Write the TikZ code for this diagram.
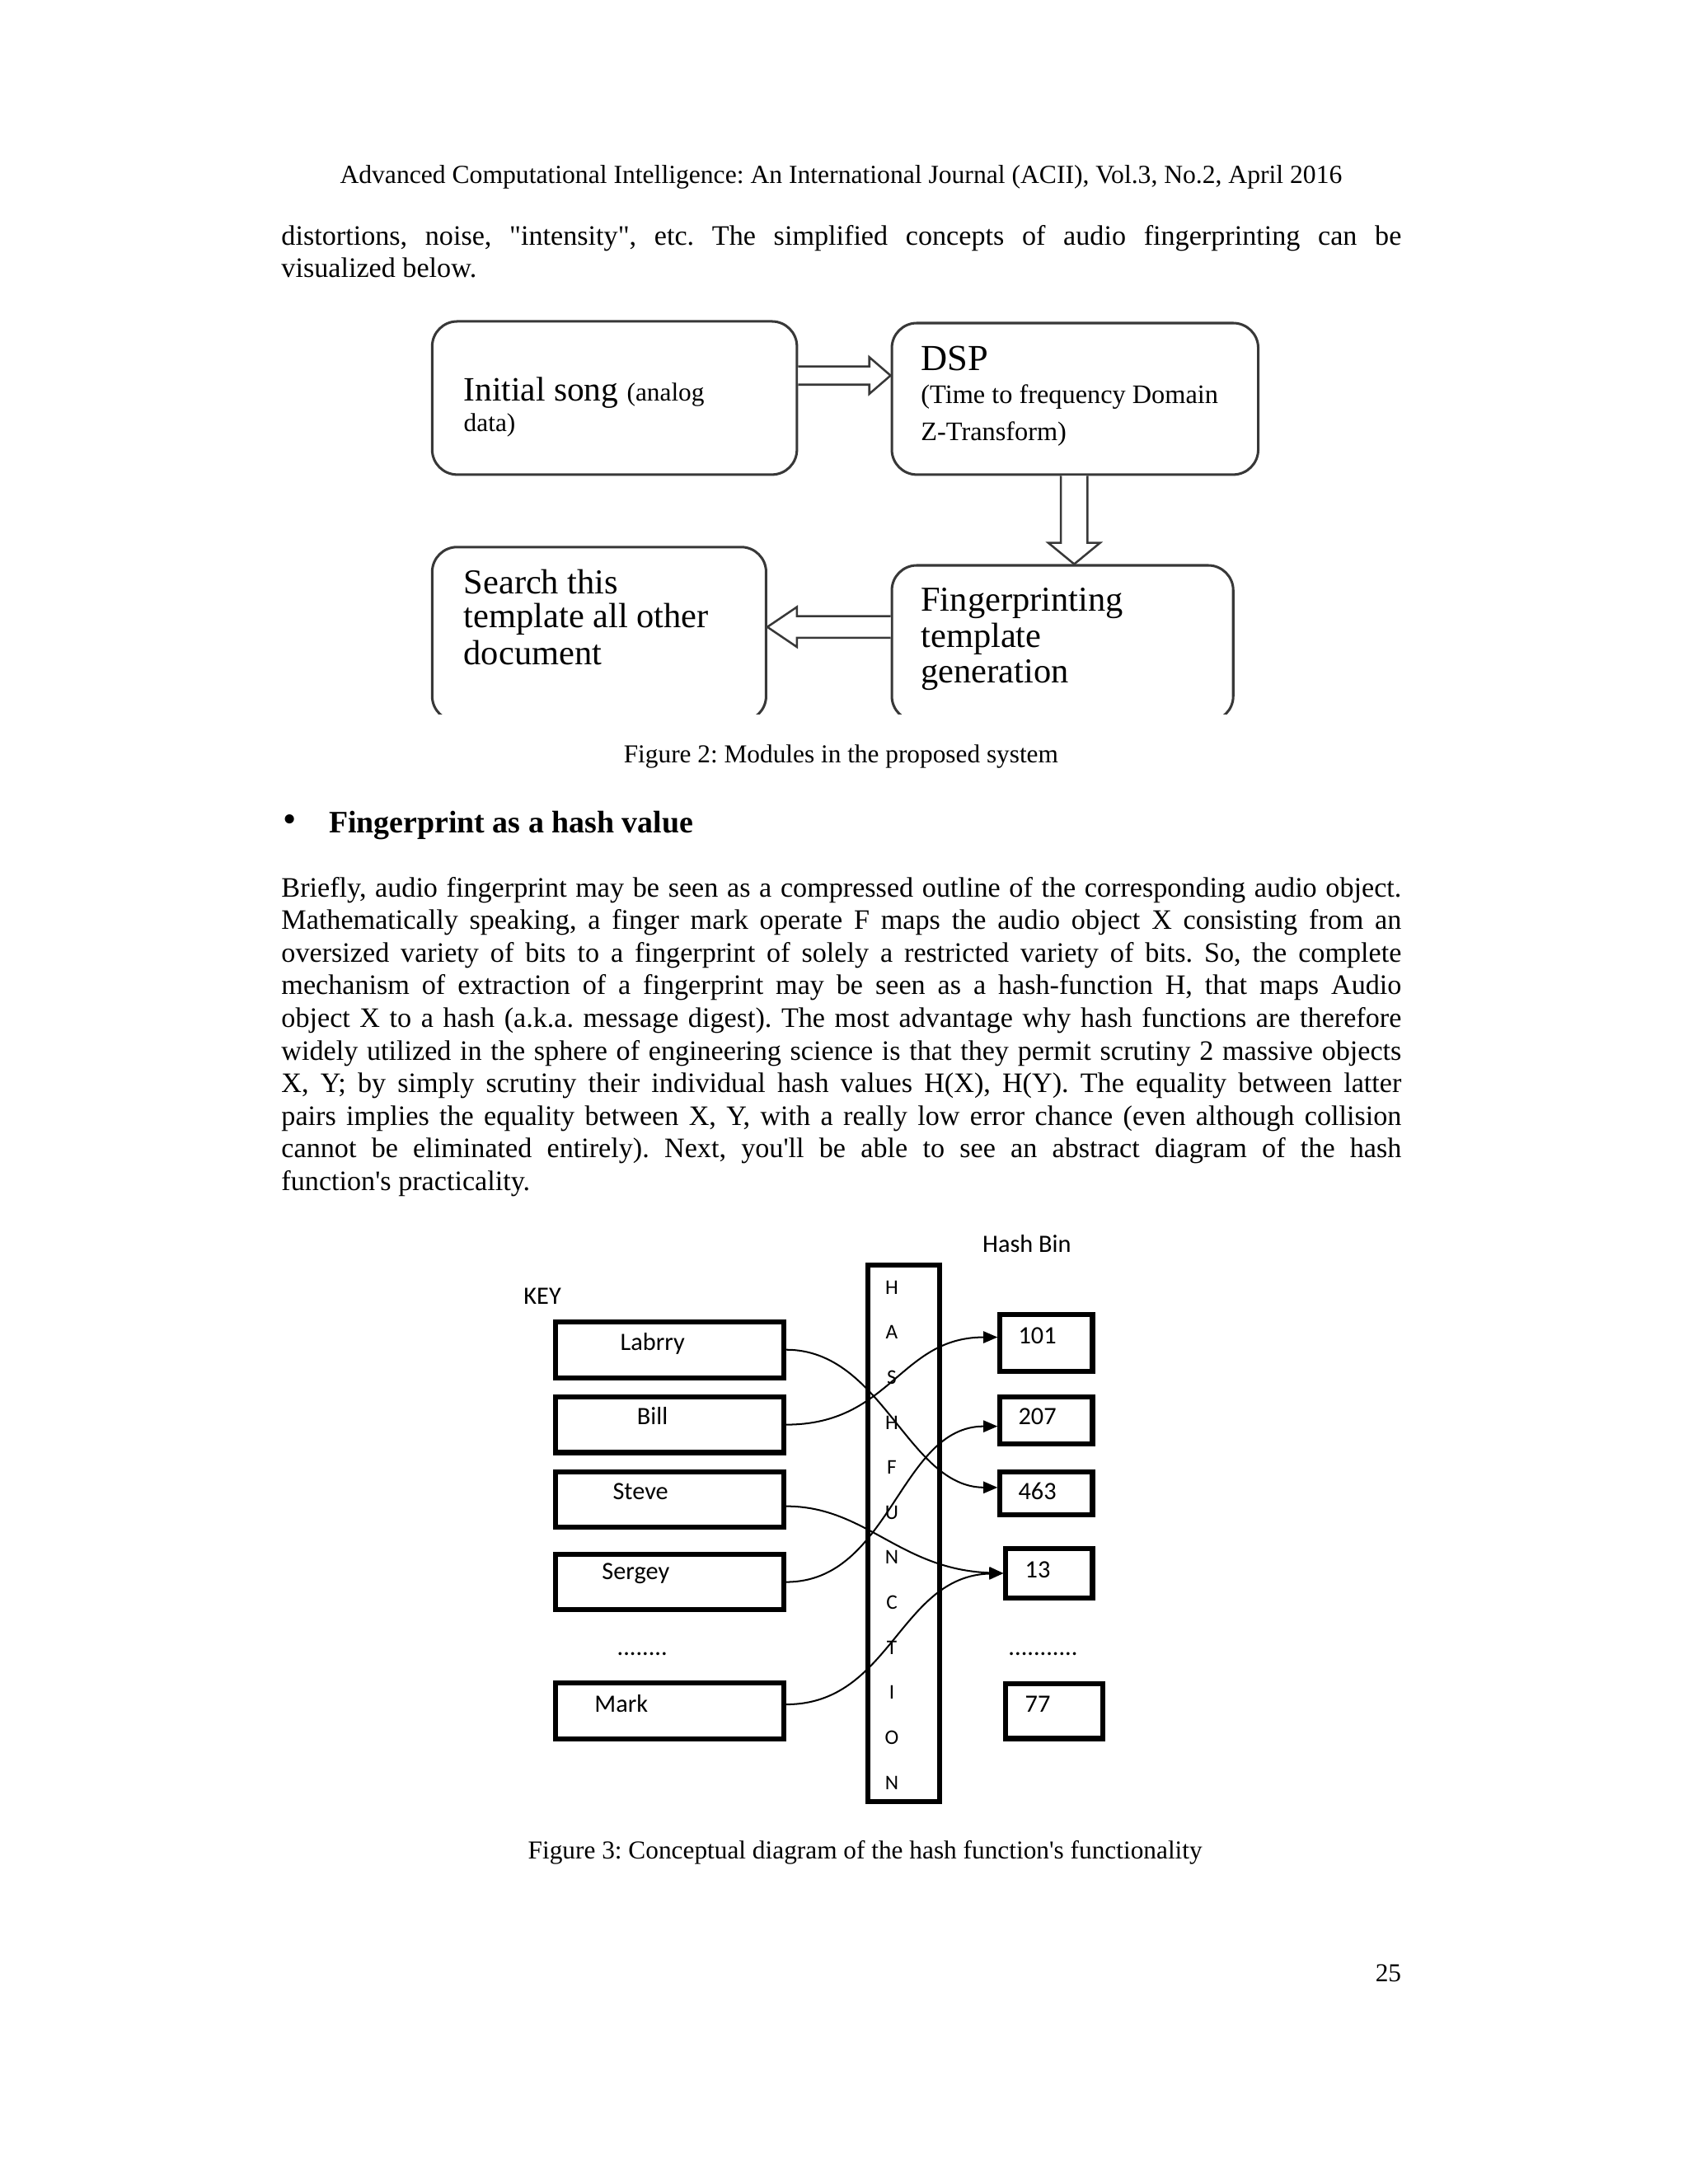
\documentclass[tikz,border=0pt]{standalone}
\usepackage{fontspec}
\setmainfont{Liberation Serif}[Ligatures=TeXOff]
\newfontfamily\calib{Carlito}
\usetikzlibrary{arrows.meta}
\newcommand\jline[1]{\makebox[1345pt][s]{#1}}
\frenchspacing
\begin{document}
\begin{tikzpicture}[x=1pt,y=-1pt,
  txt/.style={anchor=base west,inner sep=0pt,outer sep=0pt},
  body/.style={txt,font=\fontsize{33.8}{39}\selectfont},
  cbody/.style={anchor=base,inner sep=0pt,font=\fontsize{31}{39}\selectfont},
  rbox/.style={draw=black!78,line width=3pt,rounded corners=30pt,inner sep=0pt},
  blk/.style={draw=black!78,line width=2.5pt,fill=white,line join=miter},
  ftwo/.style={txt,font=\fontsize{42}{44}\selectfont},
  fsmall/.style={txt,font=\fontsize{32}{36}\selectfont},
  kbox/.style={draw,line width=6pt,inner sep=0pt,minimum width=274pt,minimum height=67pt},
  bbox/.style={draw,line width=6pt,inner sep=0pt},
  fthree/.style={txt,font=\calib\fontsize{30}{36}\selectfont},
  hl/.style={anchor=center,inner sep=0pt,font=\calib\fontsize{25}{30}\selectfont},
  link/.style={line width=2pt,-{Triangle[length=17pt,width=14pt]}}
]
\fill[white] (0,0) rectangle (2027,2623);
\useasboundingbox (0,0) rectangle (2027,2623);

% header and top text
\node[cbody,font=\fontsize{31.3}{36}\selectfont] (hdr) at (1010,220) {Advanced Computational Intelligence: An International Journal (ACII), Vol.3, No.2, April 2016};
\node[body] (t1) at (338,294) {\jline{distortions, noise, "intensity", etc. The simplified concepts of audio fingerprinting can be}};
\node[body] (t2) at (338,333) {visualized below.};

% Figure 2
\node[rbox,minimum width=438pt,minimum height=184pt] (A) at (738,478) {};
\node[rbox,minimum width=440pt,minimum height=182pt] (B) at (1291,479) {};
\begin{scope}
\clip (0,0) rectangle (2027,858);
\node[rbox,minimum width=401pt,minimum height=209pt] (C) at (719.5,761.5) {};
\node[rbox,minimum width=410pt,minimum height=187pt] (D) at (1276,772.5) {};
\end{scope}

\node[txt,font=\fontsize{41}{44}\selectfont] (tA1) at (557,482) {Initial song {\fontsize{31}{36}\selectfont(analog}};
\node[txt,font=\fontsize{31}{36}\selectfont] (tA2) at (557,518) {data)};
\node[txt,font=\fontsize{44}{48}\selectfont] (tB1) at (1106,445) {DSP};
\node[fsmall] (tB2) at (1106,485) {(Time to frequency Domain};
\node[fsmall] (tB3) at (1106,529) {Z-Transform)};
\node[ftwo] (tC1) at (557,713) {Search this};
\node[ftwo] (tC2) at (557,754) {template all other};
\node[ftwo] (tC3) at (557,798) {document};
\node[ftwo] (tD1) at (1106,734) {Fingerprinting};
\node[ftwo] (tD2) at (1106,777) {template};
\node[ftwo] (tD3) at (1106,820) {generation};

\draw[blk] (A.east |- 0,440) -- (1044,440) -- (1044,429) -- (B.west |- 0,451) -- (1044,473) -- (1044,462) -- (A.east |- 0,462);
\draw[blk] (B.south -| 1274,0) -- (1274,652) -- (1259,652) -- (D.north -| 1290,0) -- (1321,652) -- (1306,652) -- (B.south -| 1306,0);
\draw[blk] (D.west |- 0,740) -- (957,740) -- (957,729) -- (C.east |- 0,753) -- (957,777) -- (957,766) -- (D.west |- 0,766);

\node[cbody] (cap2) at (1010,916) {Figure 2: Modules in the proposed system};

% heading
\node[anchor=center,inner sep=0pt,font=\fontsize{46}{48}\selectfont] (bul) at (348,989) {\textbullet};
\node[txt,font=\bfseries\fontsize{37.5}{40}\selectfont] (hd) at (395,1000) {Fingerprint as a hash value};

% paragraph
\node[body] (p1) at (338,1077) {\jline{Briefly, audio fingerprint may be seen as a compressed outline of the corresponding audio object.}};
\node[body] (p2) at (338,1116.2) {\jline{Mathematically speaking, a finger mark operate F maps the audio object X consisting from an}};
\node[body] (p3) at (338,1155.4) {\jline{oversized variety of bits to a fingerprint of solely a restricted variety of bits. So, the complete}};
\node[body] (p4) at (338,1194.6) {\jline{mechanism of extraction of a fingerprint may be seen as a hash-function H, that maps Audio}};
\node[body] (p5) at (338,1233.8) {\jline{object X to a hash (a.k.a. message digest). The most advantage why hash functions are therefore}};
\node[body] (p6) at (338,1273) {\jline{widely utilized in the sphere of engineering science is that they permit scrutiny 2 massive objects}};
\node[body] (p7) at (338,1312.2) {\jline{X, Y; by simply scrutiny their individual hash values H(X), H(Y). The equality between latter}};
\node[body] (p8) at (338,1351.4) {\jline{pairs implies the equality between X, Y, with a really low error chance (even although collision}};
\node[body] (p9) at (338,1390.6) {\jline{cannot be eliminated entirely). Next, you'll be able to see an abstract diagram of the hash}};
\node[body] (p10) at (338,1429.8) {function's practicality.};

% Figure 3
\node[fthree] (hb) at (1180,1504) {Hash Bin};
\node[fthree] (key) at (629,1566) {KEY};
\node[kbox] (kL) at (804,1621) {};
\node[kbox] (kB) at (804,1711) {};
\node[kbox] (kSt) at (804,1801) {};
\node[kbox] (kSg) at (804,1900) {};
\node[kbox] (kM) at (804,2055) {};
\node[fthree] (tkL) at (745,1622) {Labrry};
\node[fthree] (tkB) at (765,1711) {Bill};
\node[fthree] (tkSt) at (736,1801) {Steve};
\node[fthree] (tkSg) at (723,1897) {Sergey};
\node[fthree] (tkM) at (714,2056) {Mark};
\node[fthree] (dl) at (741,1988) {........};

\node[bbox,minimum width=86pt,minimum height=645pt] (hf) at (1085,1841.5) {};
\foreach \c [count=\i from 0] in {H,A,S,H,F,U,N,C,T,I,O,N}
  \node[hl] (h\i) at (1071,{1546+54.1*\i}) {\c};

\node[bbox,minimum width=111pt,minimum height=68pt] (b101) at (1256.5,1613) {};
\node[bbox,minimum width=111pt,minimum height=56pt] (b207) at (1256.5,1706) {};
\node[bbox,minimum width=111pt,minimum height=51pt] (b463) at (1256.5,1793.5) {};
\node[bbox,minimum width=104pt,minimum height=59pt] (b13) at (1260,1889.5) {};
\node[bbox,minimum width=116pt,minimum height=66pt] (b77) at (1266,2055) {};
\node[fthree] (t101) at (1223,1614) {101};
\node[fthree] (t207) at (1223,1711) {207};
\node[fthree] (t463) at (1223,1801) {463};
\node[fthree] (t13) at (1231,1895) {13};
\node[fthree] (t77) at (1231,2056) {77};
\node[fthree] (dr) at (1211,1988) {...........};

\draw[link] (kL.east) .. controls (1060,1621) and (1090,1786) .. ([yshift=7pt]b463.west);
\draw[link] (kB.east) .. controls (1070,1711) and (1080,1606) .. ([yshift=7pt]b101.west);
\draw[link] (kSg.east) .. controls (1070,1900) and (1080,1713) .. ([yshift=-7pt]b207.west);
\draw[link] ([yshift=-8pt]kSt.east) .. controls (1040,1809) and (1080,1885) .. (b13.west);
\draw[link] ([yshift=8pt]kM.east) .. controls (1070,2047) and (1080,1893) .. (b13.west);

\node[cbody] (cap3) at (1039,2232) {Figure 3: Conceptual diagram of the hash function's functionality};
\node[anchor=base east,inner sep=0pt,font=\fontsize{31}{39}\selectfont] (pg) at (1683,2380) {25};
\end{tikzpicture}
\end{document}
